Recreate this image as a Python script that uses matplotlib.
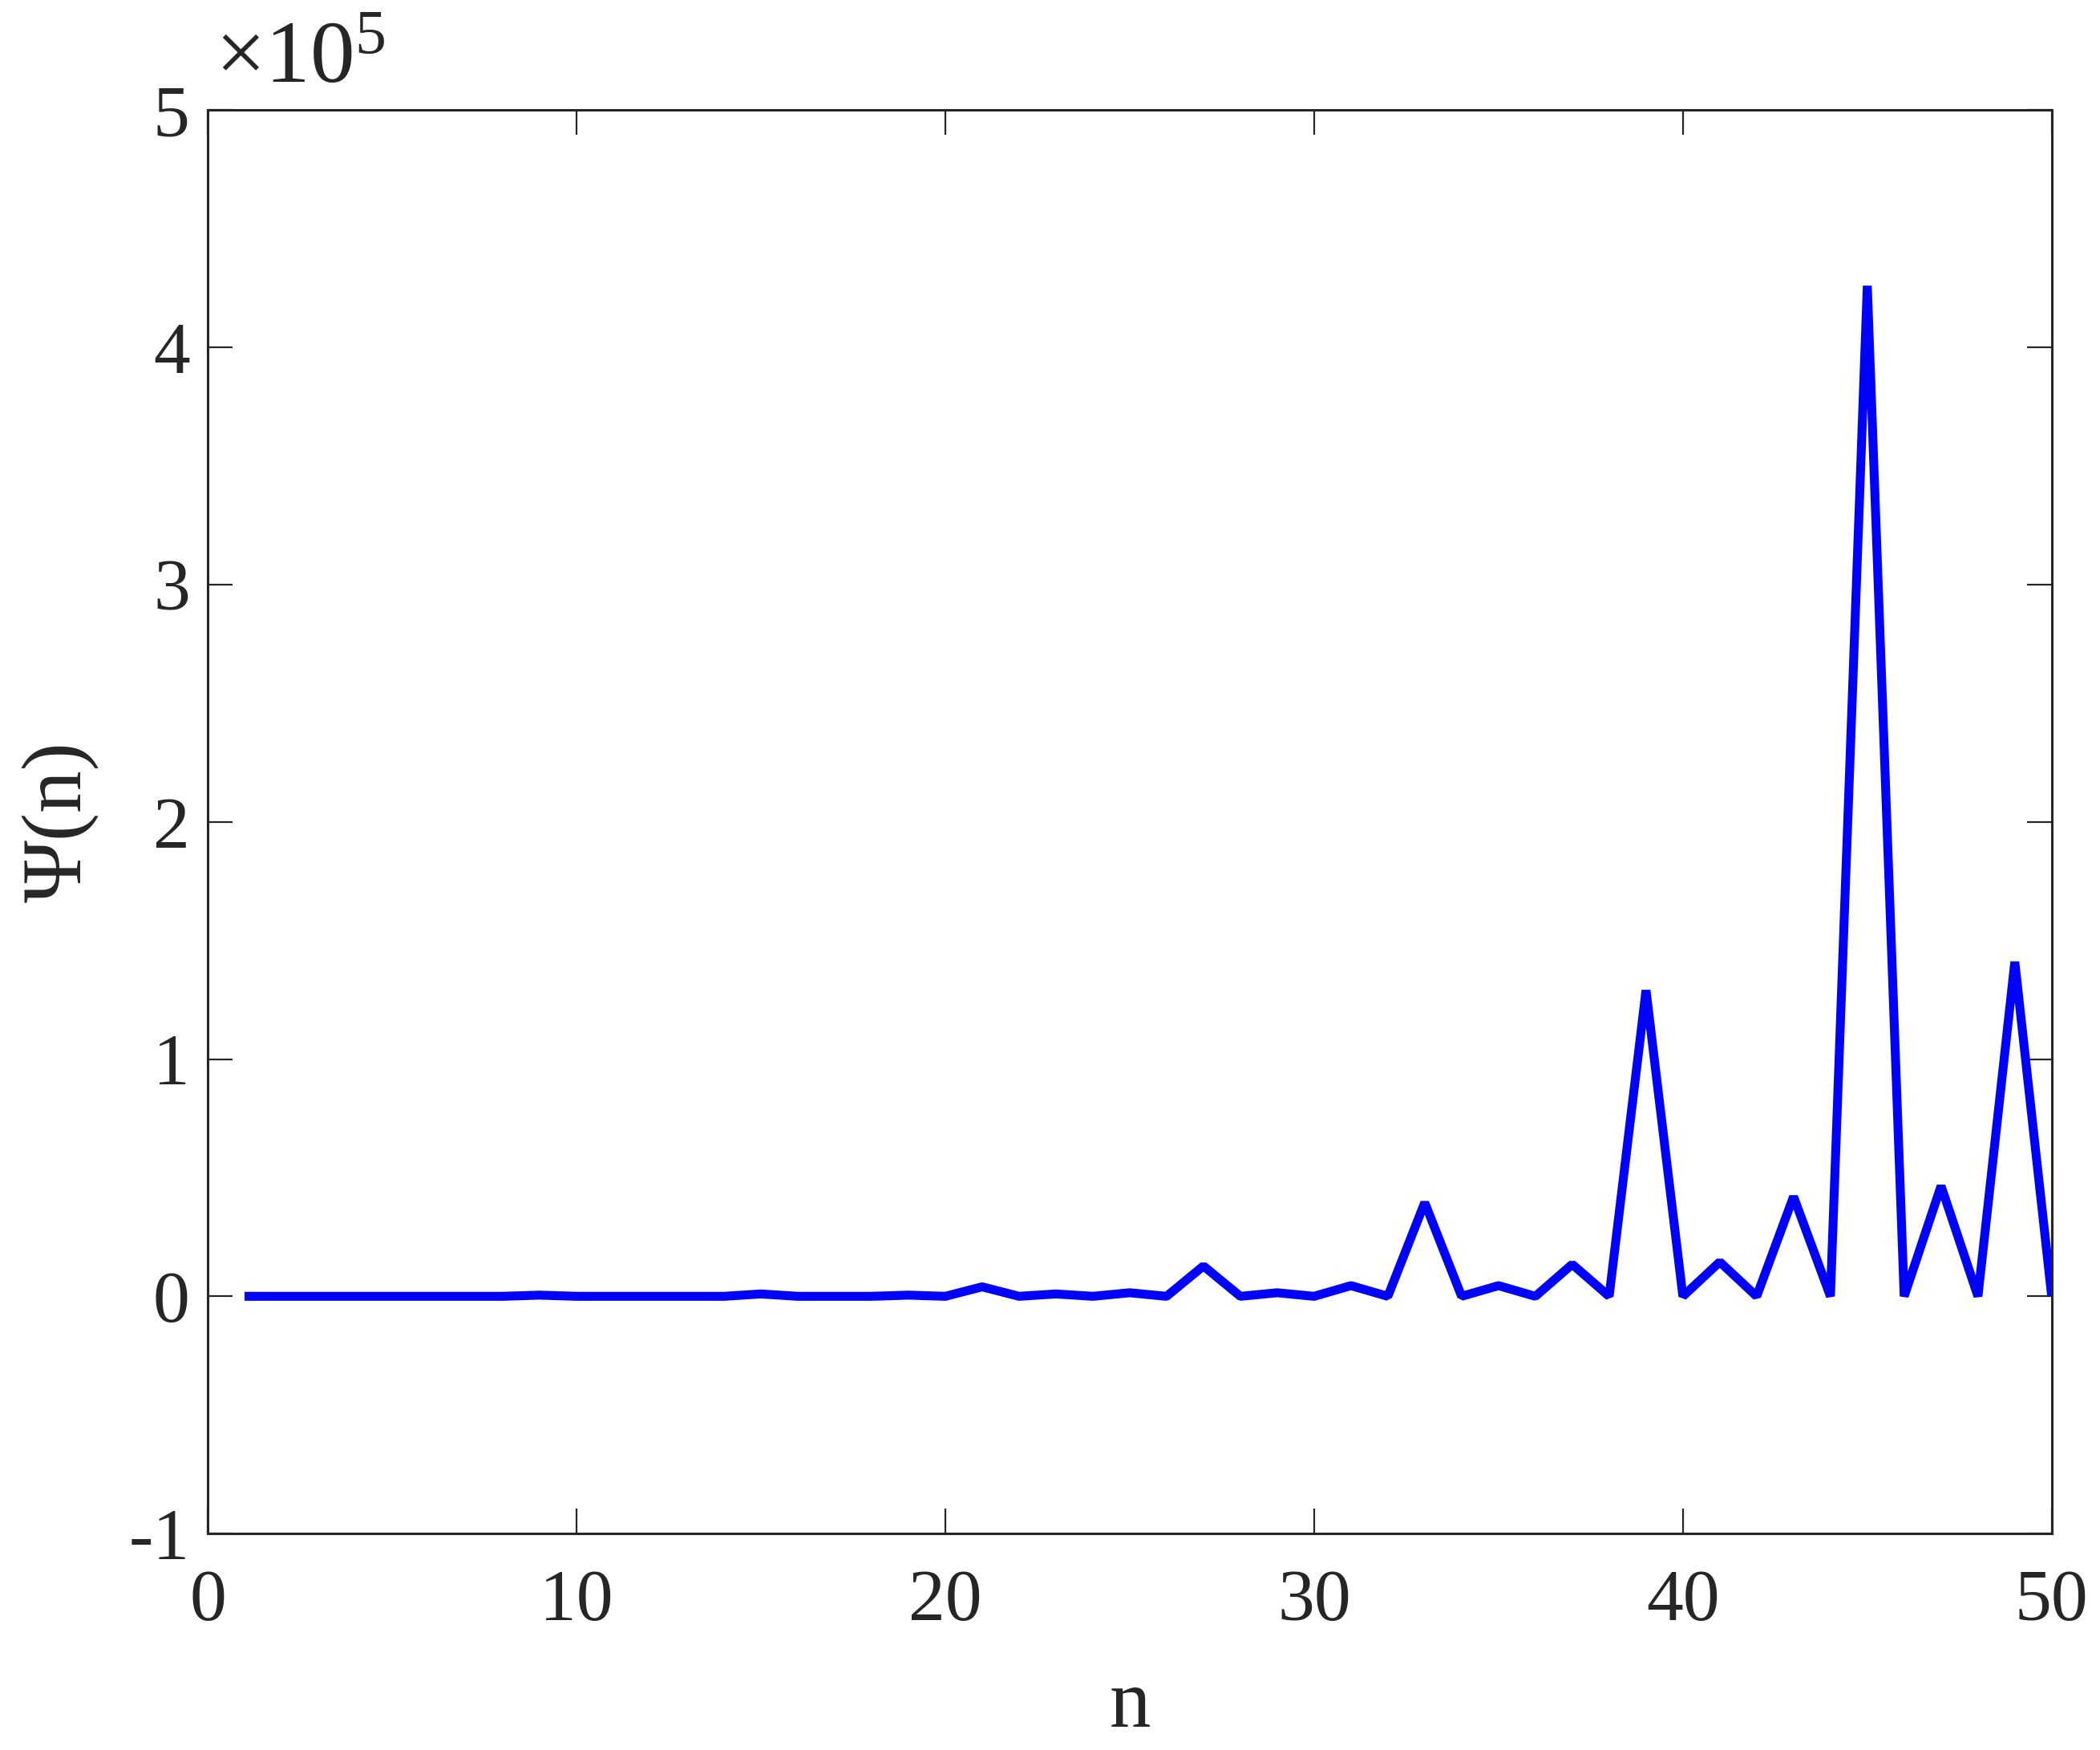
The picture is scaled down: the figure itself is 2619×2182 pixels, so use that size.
import matplotlib
matplotlib.use("Agg")
import matplotlib.pyplot as plt
from matplotlib.ticker import FuncFormatter

# n = 1..50, Psi(n)
n_values = list(range(1, 51))
psi_values = [
    0, 0, 0, 0, 0, 0, 0, 0, 500, 0,
    0, 0, 0, 0, 1000, 0, 0, 0, 500, 0,
    4000, 0, 1000, 0, 1500, 0, 12800, 0, 1500, 0,
    4500, 0, 39500, 0, 4500, 0, 13500, 0, 129000, 0,
    14500, 0, 42000, 0, 426000, 0, 46500, 0, 141000, 0,
]

x_ticks = [0, 10, 20, 30, 40, 50]
y_ticks = [-1e5, 0, 1e5, 2e5, 3e5, 4e5, 5e5]
y_scale = 1e5

TEXT = "#262626"

plt.rcParams["font.family"] = ["Liberation Serif", "DejaVu Serif"]
plt.rcParams["mathtext.fontset"] = "custom"
plt.rcParams["mathtext.rm"] = "Liberation Serif"
plt.rcParams["mathtext.it"] = "Liberation Serif"
plt.rcParams["axes.unicode_minus"] = False

fig = plt.figure(figsize=(26.19, 21.82), dpi=100)
ax = fig.add_axes([0.0989, 0.1237, 0.8781, 0.8133])

ax.plot(n_values, psi_values, color="#0000ff", linewidth=8,
        solid_joinstyle="bevel", solid_capstyle="butt")

ax.set_xlim(0, 50)
ax.set_ylim(-1e5, 5e5)
ax.set_xticks(x_ticks)
ax.set_yticks(y_ticks)
ax.yaxis.set_major_formatter(FuncFormatter(lambda v, p: f"{v / y_scale:g}"))

# exponent label like MATLAB's
ax.text(0.004, 1.006, r"$\times10^{5}$", transform=ax.transAxes,
        fontsize=80, color=TEXT, ha="left", va="bottom")

ax.tick_params(direction="in", length=22, width=1.6, colors=TEXT,
               labelsize=66, top=True, right=True, pad=16)
ax.tick_params(axis="x", pad=32)
for sp in ax.spines.values():
    sp.set_linewidth(2.2)
    sp.set_color(TEXT)

ax.set_xlabel("n", fontsize=74, color=TEXT, labelpad=30)
ax.set_ylabel("Ψ(n)", fontsize=76, color=TEXT, labelpad=26)

fig.savefig("out.png", dpi=100)
